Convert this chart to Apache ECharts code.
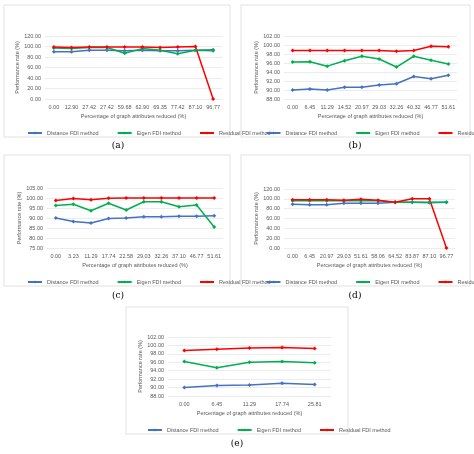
<!DOCTYPE html>
<html>
<head>
<meta charset="utf-8">
<script src="https://cdn.jsdelivr.net/npm/echarts@6/dist/echarts.min.js"></script>
<style>html,body{margin:0;padding:0;background:#fff}#main{width:474px;height:454px}</style>
</head>
<body>
<div id="main"></div>
<script>
// panel data
var catsA = ['0.00', '12.90', '27.42', '27.42', '59.68', '62.90', '69.35', '77.42', '87.10', '96.77'];
var distA = [90, 90, 93, 93, 92, 93, 92, 92, 93, 94];
var eigenA = [97, 96, 98, 98, 87, 96, 93, 86, 93, 92];
var resA = [99, 98, 99, 99, 99, 99, 98, 99, 100, 0];

var catsB = ['0.00', '6.45', '11.29', '14.52', '20.97', '29.03', '32.26', '40.32', '46.77', '51.61'];
var distB = [90, 90.2, 90, 90.6, 90.6, 91.1, 91.4, 93, 92.5, 93.3];
var eigenB = [96.2, 96.3, 95.3, 96.5, 97.5, 96.9, 95.1, 97.5, 96.6, 95.8];
var resB = [98.8, 98.8, 98.8, 98.8, 98.8, 98.8, 98.6, 98.8, 99.7, 99.6];

var catsC = ['0.00', '3.23', '11.29', '17.74', '22.58', '29.03', '32.26', '37.10', '46.77', '51.61'];
var distC = [90, 88.3, 87.5, 89.8, 90, 90.6, 90.6, 90.9, 90.9, 91.1];
var eigenC = [96.2, 96.9, 93.6, 97.4, 94, 98.1, 98.1, 95.6, 96.5, 85.5];
var resC = [98.8, 99.7, 99.1, 99.9, 100, 100, 100, 100, 100, 100];

var catsD = ['0.00', '6.45', '20.97', '29.03', '51.61', '58.06', '64.52', '83.87', '87.10', '96.77'];
var distD = [89, 88, 88, 91, 91, 91, 93, 93, 92, 93];
var eigenD = [96, 96, 96, 96, 96, 96, 93, 93, 93, 93];
var resD = [98, 98, 98, 97, 99, 97, 93, 100, 100, 0];

var catsE = ['0.00', '6.45', '11.29', '17.74', '25.81'];
var distE = [90, 90.5, 90.6, 91, 90.7];
var eigenE = [96.2, 94.7, 96, 96.2, 95.9];
var resE = [98.8, 99.1, 99.4, 99.5, 99.3];

var names = ['Distance FDI method', 'Eigen FDI method', 'Residual FDI method'];
var colors = ['#4472C4', '#00B050', '#FF0000'];

// layout per panel: grid box, y range, border box, caption
var panels = [
    {cats: catsA, data: [distA, eigenA, resA], min: 0, max: 120, step: 20,
        grid: [45, 36, 177, 63], box: [4, 5, 226, 132], cap: '(a)', capX: 118, capY: 146},
    {cats: catsB, data: [distB, eigenB, resB], min: 88, max: 102, step: 2,
        grid: [284, 36, 173, 63], box: [241, 5, 229, 132], cap: '(b)', capX: 355, capY: 146},
    {cats: catsC, data: [distC, eigenC, resC], min: 75, max: 105, step: 5,
        grid: [47, 188, 176, 60], box: [4, 155, 226, 131], cap: '(c)', capX: 118, capY: 296},
    {cats: catsD, data: [distD, eigenD, resD], min: 0, max: 120, step: 20,
        grid: [284, 189, 171, 59], box: [241, 155, 229, 131], cap: '(d)', capX: 355, capY: 296},
    {cats: catsE, data: [distE, eigenE, resE], min: 88, max: 102, step: 2,
        grid: [168, 337, 163, 59], box: [126, 307, 222, 127], cap: '(e)', capX: 237, capY: 444}
];

var grids = [], xAxes = [], yAxes = [], series = [], legends = [], graphics = [];
var tiny = {fontSize: 5.5, color: '#595959', fontFamily: 'Liberation Sans'};

panels.forEach(function (p, i) {
    grids.push({left: p.grid[0], top: p.grid[1], width: p.grid[2], height: p.grid[3]});
    xAxes.push({
        type: 'category', gridIndex: i, data: p.cats, boundaryGap: true,
        name: 'Percentage of graph attributes reduced (%)', nameLocation: 'middle', nameGap: 14,
        nameTextStyle: tiny,
        axisLine: {show: false}, axisTick: {show: false},
        axisLabel: Object.assign({interval: 0, margin: 5}, tiny)
    });
    yAxes.push({
        type: 'value', gridIndex: i, min: p.min, max: p.max, interval: p.step,
        name: 'Performance rate (%)', nameLocation: 'middle', nameGap: 24, nameTextStyle: tiny,
        axisLabel: Object.assign({margin: 4, formatter: function (v) { return v.toFixed(2); }}, tiny),
        splitLine: {lineStyle: {color: '#d9d9d9', width: 0.5}}
    });
    p.data.forEach(function (d, k) {
        series.push({
            name: names[k], type: 'line', xAxisIndex: i, yAxisIndex: i, data: d,
            symbol: 'diamond', symbolSize: 4, color: colors[k],
            lineStyle: {width: 1.5}, animation: false
        });
    });
    legends.push({
        data: names, left: p.box[0] + (p.box[2] - 190) / 2, width: 400,
        top: p.grid[1] + p.grid[3] + 26,
        itemWidth: 14, itemHeight: 4, itemGap: 18, textStyle: tiny
    });
    graphics.push({
        type: 'rect', shape: {x: p.box[0], y: p.box[1], width: p.box[2], height: p.box[3]},
        style: {fill: null, stroke: '#d9d9d9', lineWidth: 0.8}, silent: true
    });
    graphics.push({
        type: 'text', x: p.capX, y: p.capY,
        style: {text: p.cap, font: '9px "DejaVu Serif"', fill: '#000', align: 'center', verticalAlign: 'middle'}
    });
});

var myChart = echarts.init(document.getElementById('main'));
myChart.setOption({
    animation: false,
    grid: grids, xAxis: xAxes, yAxis: yAxes,
    series: series, legend: legends, graphic: graphics
});
</script>
</body>
</html>
